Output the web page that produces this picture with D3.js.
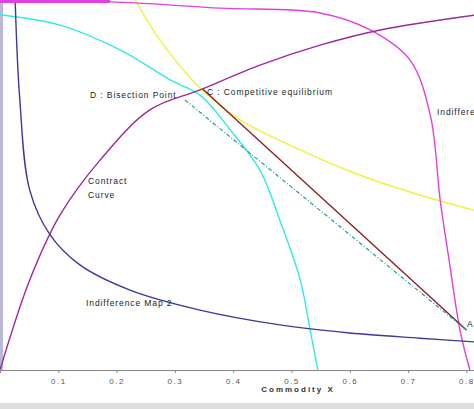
<!DOCTYPE html><html><head><script src="https://d3js.org/d3.v7.min.js"></script>
<style>body{margin:0;background:#fff}text{font-family:"Liberation Sans",Arial;}</style></head><body><svg width="474" height="409"></svg><script>
const xTicks=[0.1,0.2,0.3,0.4,0.5,0.6,0.7,0.8];
const blue=[[0.026,1],[0.034,0.73],[0.051,0.486],[0.086,0.365],[0.137,0.284],[0.223,0.216],[0.343,0.162],[0.48,0.122],[0.6,0.1],[0.72,0.086],[0.813,0.076]];
const cyan=[[0,0.96],[0.103,0.932],[0.206,0.865],[0.292,0.784],[0.343,0.743],[0.395,0.649],[0.446,0.54],[0.48,0.405],[0.515,0.243],[0.532,0.108],[0.545,0]];
const yellow=[[0.232,1],[0.274,0.892],[0.343,0.762],[0.412,0.676],[0.515,0.595],[0.617,0.527],[0.72,0.473],[0.813,0.432]];
const magenta=[[0,0.995],[0.189,0.995],[0.377,0.978],[0.549,0.965],[0.635,0.919],[0.703,0.838],[0.738,0.689],[0.755,0.459],[0.77,0.3],[0.789,0.108],[0.806,0]];
const purple=[[0,0],[0.051,0.243],[0.103,0.419],[0.172,0.568],[0.257,0.703],[0.343,0.757],[0.446,0.824],[0.549,0.878],[0.652,0.919],[0.813,0.959]];
const brown=[[0.348,0.759],[0.8,0.108]];
const dash=[[0.317,0.73],[0.8,0.108]];
const svg=d3.select("svg");
const x=d3.scaleLinear().domain([0,0.813]).range([0,474]);
const y=d3.scaleLinear().domain([0,1]).range([370,0]);
const lineY=d3.line().x(d=>x(d[0])).y(d=>y(d[1])).curve(d3.curveCatmullRom);
const straight=d3.line().x(d=>x(d[0])).y(d=>y(d[1]));
svg.append("rect").attr("x",0).attr("y",403).attr("width",474).attr("height",6).attr("fill","#ddd");
svg.append("rect").attr("x",0).attr("y",0).attr("width",3).attr("height",370).attr("fill","#b8b8d8");
const ax=svg.append("g").attr("transform","translate(0,370)").call(d3.axisBottom(x).tickValues(xTicks).tickSize(3).tickFormat(d3.format(".1f")));
ax.select(".domain").attr("stroke","#888");ax.selectAll("line").attr("stroke","#888");
ax.selectAll("text").attr("font-size",8).attr("fill","#555").attr("dy","1em").attr("letter-spacing",1.5);
function p(d,c,w,g){svg.append("path").attr("d",(g||lineY)(d)).attr("fill","none").attr("stroke",c).attr("stroke-width",w||1.4);}
p(cyan,"#33e8e8");p(yellow,"#f0f040");p(magenta,"#e040e0");p(purple,"#9a2a9a");p(blue,"#3a3a9a");
p(brown,"#8b1a1a",1.3,straight);
svg.append("path").attr("d",straight(dash)).attr("fill","none").attr("stroke","#2a9a9a").attr("stroke-width",1.2).attr("stroke-dasharray","4,2,1,2");
svg.append("rect").attr("x",0).attr("y",0).attr("width",110).attr("height",3).attr("fill","#e040e0");
const L=[["D : Bisection Point",90,98],["C : Competitive equilibrium",207,95],["Indiffere",437,115],["Contract",88,184],["Curve",88,198],["Indifference Map 2",86,306],["A.",467,327]];
L.forEach(l=>svg.append("text").attr("x",l[1]).attr("y",l[2]).attr("font-size",8.5).attr("letter-spacing",0.9).attr("fill","#222").text(l[0]));
svg.append("text").attr("x",298).attr("y",392).attr("text-anchor","middle").attr("font-size",8).attr("font-weight","bold").attr("letter-spacing",2).attr("fill","#333").text("Commodity X");
</script></body></html>
